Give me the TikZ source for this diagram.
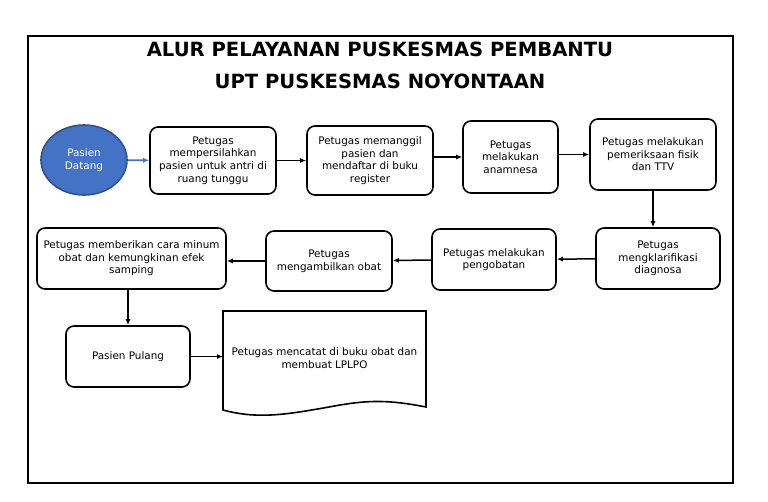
\documentclass[tikz,border=0pt]{standalone}
\usepackage{fontspec}
\setmainfont{DejaVu Sans}
\usetikzlibrary{arrows.meta,shapes.geometric}
\definecolor{pblue}{HTML}{4472C4}
\definecolor{dblue}{HTML}{2F528F}
\begin{document}
\begin{tikzpicture}[x=1pt,y=-1pt,
 box/.style={draw,line width=1.6pt,rounded corners=8pt,align=center,font=\fontsize{10.4}{12.6}\selectfont,inner sep=1pt},
 arr/.style={-{Latex[length=6pt,width=5pt]},line width=1.5pt}]
\useasboundingbox (0,0) rectangle (768,501);
\fill[white] (0,0) rectangle (768,501);
\draw[line width=2pt] (28,36) rectangle (733,483);
\node[font=\bfseries\fontsize{19.6}{22}\selectfont] (t1) at (380,49) {ALUR PELAYANAN PUSKESMAS PEMBANTU};
\node[font=\bfseries\fontsize{19.6}{22}\selectfont] (t2) at (380,81) {UPT PUSKESMAS NOYONTAAN};
\node[ellipse,draw=dblue,line width=1.6pt,fill=pblue,text=white,minimum width=86pt,minimum height=70pt,inner sep=0pt,align=center,font=\fontsize{10.4}{12.6}\selectfont] (e) at (84,160) {Pasien\\Datang};
\node[box,minimum width=126pt,minimum height=67pt] (b1) at (213,160.5) {Petugas\\mempersilahkan\\pasien untuk antri di\\ruang tunggu};
\node[box,minimum width=126pt,minimum height=69pt] (b2) at (370,160.5) {Petugas memanggil\\pasien dan\\mendaftar di buku\\register};
\node[box,minimum width=95pt,minimum height=72pt] (b3) at (510.5,157) {Petugas\\melakukan\\anamnesa};
\node[box,minimum width=126pt,minimum height=71pt] (b4) at (653,154.5) {Petugas melakukan\\pemeriksaan fisik\\dan TTV};
\node[box,minimum width=124pt,minimum height=61pt] (b5) at (658,258.5) {Petugas\\mengklarifikasi\\diagnosa};
\node[box,minimum width=124pt,minimum height=61pt] (b6) at (494,259.5) {Petugas melakukan\\pengobatan};
\node[box,minimum width=126pt,minimum height=60pt] (b7) at (329,261) {Petugas\\mengambilkan obat};
\node[box,minimum width=189pt,minimum height=61pt] (b8) at (131.5,258.5) {Petugas memberikan cara minum\\obat dan kemungkinan efek\\samping};
\node[box,minimum width=124pt,minimum height=61pt] (b9) at (128,356.5) {Pasien Pulang};
\draw[line width=1.6pt] (223,311) -- (426,311) -- (426,407) .. controls (390,400) and (370,400) .. (340,405) .. controls (290,414) and (260,420) .. (223,410) -- cycle;
\node[align=center,font=\fontsize{10.4}{12.6}\selectfont] (d) at (324.5,358) {Petugas mencatat di buku obat dan\\membuat LPLPO};
\coordinate (dl) at (223,356.5);
\draw[-{Latex[length=6pt,width=5pt]},line width=1.8pt,pblue] (e) -- (b1);
\draw[arr] (b1) -- (b2);
\draw[arr] (b2.east|-b3) -- (b3);
\draw[arr] (b3.east|-b4) -- (b4);
\draw[arr] (b4.south) -- (b4.south|-b5.north);
\draw[arr] (b5) -- (b6);
\draw[arr] (b6) -- (b7);
\draw[arr] (b7) -- (b8.east|-b7);
\draw[arr] (b8.south-|b9) -- (b9);
\draw[arr] (b9) -- (dl);
\end{tikzpicture}
\end{document}
